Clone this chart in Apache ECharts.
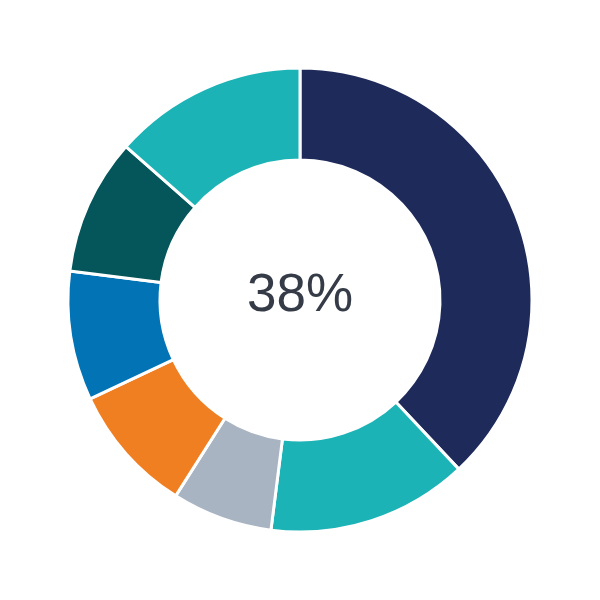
<!DOCTYPE html>
<html>
<head>
<meta charset="utf-8">
<script src="https://cdn.jsdelivr.net/npm/echarts@6/dist/echarts.min.js"></script>
<style>
html,body{margin:0;padding:0;background:#fff;}
#chart{width:600px;height:600px;}
</style>
</head>
<body>
<div id="chart"></div>
<script>
var categories = ['A', 'B', 'C', 'D', 'E', 'F', 'G'];
var values = [38, 14, 7, 9, 9, 9.5, 13.5];
var colors = ['#1e2a5a', '#1cb3b6', '#a8b4c2', '#f07f22', '#0274b6', '#04565a', '#1cb3b6'];
var centerLabel = '38%';

var chart = echarts.init(document.getElementById('chart'));
chart.setOption({
  animation: false,
  graphic: [{
    type: 'text',
    left: 'center',
    top: 270,
    style: {
      text: centerLabel,
      font: '53px "Liberation Sans", Arial, sans-serif',
      fill: '#363c47'
    }
  }],
  series: [{
    type: 'pie',
    center: [300, 300],
    radius: [140, 232],
    startAngle: 90,
    clockwise: true,
    label: { show: false },
    labelLine: { show: false },
    emphasis: { disabled: true },
    itemStyle: { borderColor: '#ffffff', borderWidth: 3 },
    data: categories.map(function (c, i) {
      return { name: c, value: values[i], itemStyle: { color: colors[i] } };
    })
  }]
});
</script>
</body>
</html>
